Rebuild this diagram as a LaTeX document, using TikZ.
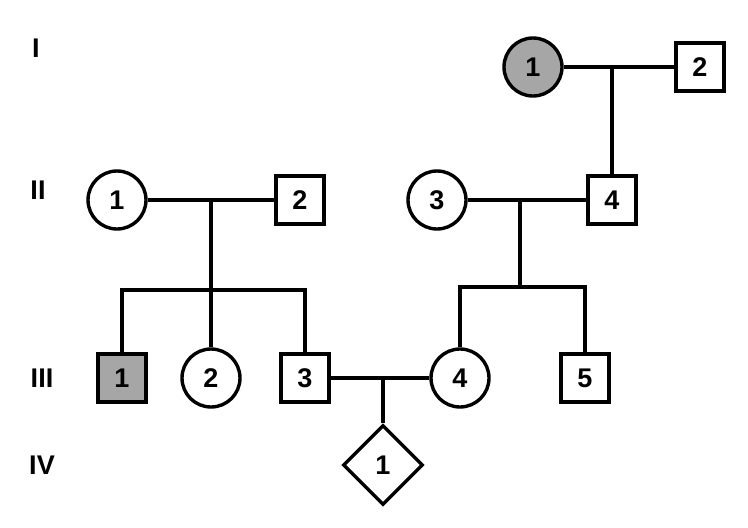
\documentclass[tikz,border=0pt]{standalone}
\usepackage{fontspec}
\setmainfont{Liberation Sans}
\usetikzlibrary{shapes.geometric}
\begin{document}
\begin{tikzpicture}[x=1pt,y=-1pt,
  every node/.style={font=\fontsize{27}{29}\selectfont\bfseries},
  fem/.style={draw,circle,minimum size=58pt,inner sep=0pt,line width=3.4pt},
  mal/.style={draw,rectangle,minimum size=48pt,inner sep=0pt,line width=3.4pt},
  unk/.style={draw,diamond,minimum size=80pt,inner sep=0pt,line width=3.4pt},
  aff/.style={fill=gray!70},
  gen/.style={font=\fontsize{27}{29}\selectfont\bfseries},
  ln/.style={line width=3.4pt}]
\useasboundingbox (0,0) rectangle (748,528);
\node[gen] (g1) at (36,48) {I};
\node[gen] (g2) at (38,190) {II};
\node[gen] (g3) at (42,378) {III};
\node[gen] (g4) at (42,465) {IV};
\node[fem,aff] (a1) at (533,67) {1};
\node[mal] (a2) at (700,67) {2};
\node[fem] (b1) at (117,200) {1};
\node[mal] (b2) at (300,200) {2};
\node[fem] (b3) at (437,200) {3};
\node[mal] (b4) at (612,200) {4};
\node[mal,aff] (c1) at (122,378) {1};
\node[fem] (c2) at (211,378) {2};
\node[mal] (c3) at (305,378) {3};
\node[fem] (c4) at (460,378) {4};
\node[mal] (c5) at (585,378) {5};
\node[unk] (d1) at (383,465) {1};
\coordinate (m1) at (612,67);
\coordinate (m2) at (211,200);
\coordinate (m3) at (520,200);
\coordinate (m4) at (383,380);
\coordinate (s2) at (211,290);
\coordinate (s3) at (520,287);
\draw[ln] (a1) -- (a2);
\draw[ln] (m1) -- (b4);
\draw[ln] (b1) -- (b2);
\draw[ln] (b3) -- (b4);
\draw[ln] (m2) -- (s2);
\draw[ln] (c1.north) |- (s2) -| (c3.north);
\draw[ln] (s2) -- (c2);
\draw[ln] (m3) -- (s3);
\draw[ln] (c4.north) |- (s3) -| (c5.north);
\draw[ln] (c3) -- (c4);
\draw[ln] (m4) -- (d1);
\end{tikzpicture}
\end{document}
